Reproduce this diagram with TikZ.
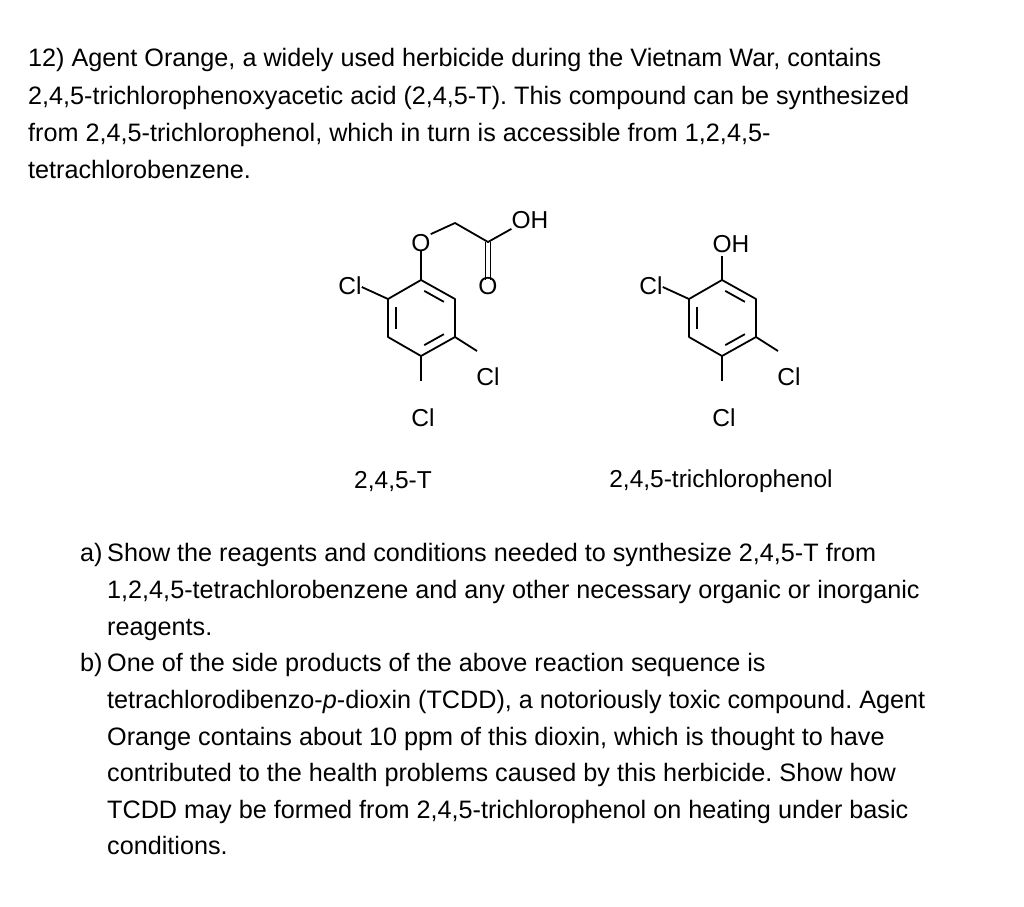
\documentclass[tikz,border=0pt]{standalone}
\usepackage{fontspec}
\setmainfont{Liberation Sans}
\usetikzlibrary{calc}
\frenchspacing
\begin{document}
\begin{tikzpicture}[x=1pt,y=-1pt,
  txt/.style={anchor=base west,inner sep=0pt,font=\fontsize{25.2}{30}\selectfont},
  atom/.style={inner sep=0pt,font=\fontsize{24.5}{28}\selectfont},
  bond/.style={line width=1.8pt}]
\useasboundingbox (0,0) rectangle (1024,906);
\node[txt] (l1) at (28,66) {12) Agent Orange, a widely used herbicide during the Vietnam War, contains};
\node[txt] (l2) at (28,104) {2,4,5-trichlorophenoxyacetic acid (2,4,5-T). This compound can be synthesized};
\node[txt] (l3) at (28,141) {from 2,4,5-trichlorophenol, which in turn is accessible from 1,2,4,5-};
\node[txt] (l4) at (28,178) {tetrachlorobenzene.};
% rings
\foreach \dx/\m in {0/A,301/B}{
  \begin{scope}[xshift=\dx]
  \coordinate (\m1) at (421,280);
  \coordinate (\m2) at (455,299);
  \coordinate (\m3) at (455,337);
  \coordinate (\m4) at (421,356);
  \coordinate (\m5) at (388,337);
  \coordinate (\m6) at (388,299);
  \coordinate (\m c) at (421.5,318);
  \end{scope}
  \draw[bond,line join=round] (\m1)--(\m2)--(\m3)--(\m4)--(\m5)--(\m6)--cycle;
  \foreach \a/\b in {1/2,3/4,5/6}{
    \draw[bond] ($($(\m\a)!0.12!(\m\b)$)!0.24!(\m c)$) -- ($($(\m\a)!0.88!(\m\b)$)!0.24!(\m c)$);
  }
}
% 2,4,5-T substituents
\node[atom] (Oe) at (421,243) {O};
\node[atom] (OH1) at (530,220) {OH};
\node[atom] (Oc) at (488,286) {O};
\node[atom] (ClA1) at (350,286) {Cl};
\node[atom] (ClA2) at (488,377) {Cl};
\node[atom] (ClA3) at (423,418) {Cl};
\coordinate (ch2) at (455,223);
\coordinate (cc) at (488,242);
\draw[bond] (A1) -- ([yshift=2]Oe.south);
\draw[bond] (Oe.north east) -- (ch2) -- (cc) -- (OH1.south west);
\draw[bond] ([xshift=-2.5]cc) -- ([xshift=-2.5,yshift=-3]Oc.north);
\draw[bond] ([xshift=2.5]cc) -- ([xshift=2.5,yshift=-3]Oc.north);
\draw[bond] ([yshift=-1]ClA1.east) -- (A6);
\draw[bond] (A3) -- (477,351);
\draw[bond] (A4) -- (421,381);
% phenol substituents
\node[atom] (OH2) at (731,244) {OH};
\node[atom] (ClB1) at (651,286) {Cl};
\node[atom] (ClB2) at (789,377) {Cl};
\node[atom] (ClB3) at (724,418) {Cl};
\draw[bond] (B1) -- (722,256);
\draw[bond] ([yshift=-1]ClB1.east) -- (B6);
\draw[bond] (B3) -- (778,351);
\draw[bond] (B4) -- (722,381);
\node[atom] (n1) at (393,481) {2,4,5-T};
\node[atom] (n2) at (721,481) {2,4,5-trichlorophenol};
% questions
\node[txt] (a) at (80,561) {a)};
\node[txt] (a1) at (107,561) {Show the reagents and conditions needed to synthesize 2,4,5-T from};
\node[txt] (a2) at (107,598) {1,2,4,5-tetrachlorobenzene and any other necessary organic or inorganic};
\node[txt] (a3) at (107,635) {reagents.};
\node[txt] (b) at (80,671) {b)};
\node[txt] (b1) at (107,671) {One of the side products of the above reaction sequence is};
\node[txt] (b2) at (107,708) {tetrachlorodibenzo-\textit{p}-dioxin (TCDD), a notoriously toxic compound. Agent};
\node[txt] (b3) at (107,745) {Orange contains about 10 ppm of this dioxin, which is thought to have};
\node[txt] (b4) at (107,781) {contributed to the health problems caused by this herbicide. Show how};
\node[txt] (b5) at (107,818) {TCDD may be formed from 2,4,5-trichlorophenol on heating under basic};
\node[txt] (b6) at (107,854) {conditions.};
\end{tikzpicture}
\end{document}
